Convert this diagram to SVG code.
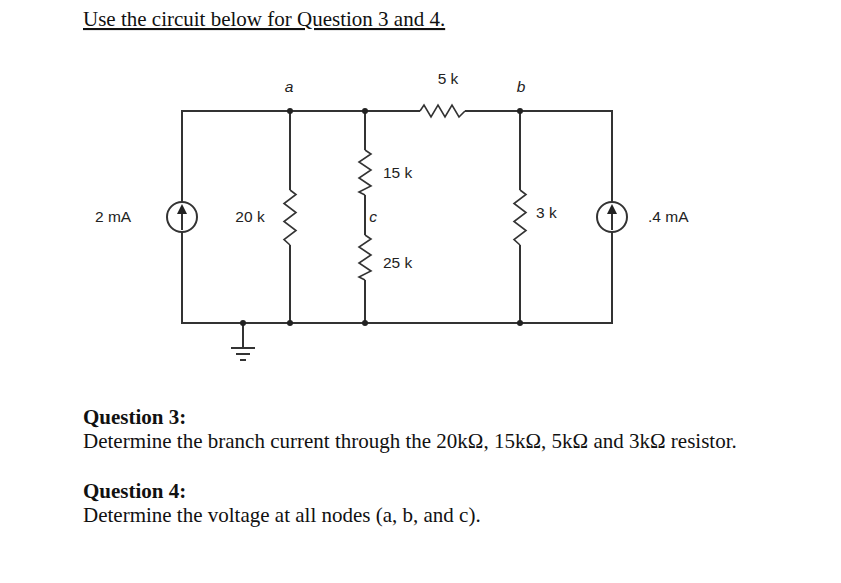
<svg xmlns="http://www.w3.org/2000/svg" width="841" height="583" viewBox="0 0 841 583">
<style>
.w{fill:none;stroke:#333;stroke-width:2}
.r{fill:none;stroke:#333;stroke-width:1.6}
.l{font-family:"Liberation Sans",Arial,sans-serif;font-size:15.5px;fill:#222}
.t{font-family:"Liberation Serif","Times New Roman",serif;font-size:21px;fill:#111}
.d{fill:#222}
</style>
<defs><marker id="ah" viewBox="0 0 10 10" refX="5" refY="5" markerWidth="5" markerHeight="5" orient="auto"><path d="M0,0L10,5L0,10z" fill="#222"/></marker></defs>
<rect width="841" height="583" fill="#fff"/>
<text class="t" x="83" y="26" font-size="20" text-decoration="underline">Use the circuit below for Question 3 and 4.</text>
<g id="wires">
<path class="w" d="M420,111H182V202M182,232V323H612V232M612,202V111H465M290,111V190M290,245V323M365,111V150M365,195V235M365,280V323M520,111V190M520,245V323M243,323V348"/>
</g>
<g id="ground"><path class="w" d="M231,348H255M236,354H250M240,360H246"/></g>
<g id="dots" class="d">
<circle cx="290" cy="111" r="3"/><circle cx="365" cy="111" r="3"/><circle cx="520" cy="111" r="3"/>
<circle cx="243" cy="323" r="3"/><circle cx="290" cy="323" r="3"/><circle cx="365" cy="323" r="3"/><circle cx="520" cy="323" r="3"/>
</g>
<g id="R5k"><path class="r" d="M420,111L424,105L431,117L438,105L445,117L452,105L459,117L465,111"/></g>
<g id="R20k"><path class="r" d="M290,190L296,194.5L284,203.5L296,212.5L284,221.5L296,230.5L284,239.5L290,245"/></g>
<g id="R15k"><path class="r" d="M365,150L371,154L359,162L371,170L359,178L371,186L359,192L365,195"/></g>
<g id="R25k"><path class="r" d="M365,235L371,239L359,247L371,255L359,263L371,271L359,277L365,280"/></g>
<g id="R3k"><path class="r" d="M520,190L526,194.5L514,203.5L526,212.5L514,221.5L526,230.5L514,239.5L520,245"/></g>
<g id="I2mA"><circle class="w" cx="182" cy="217" r="15"/><path class="w" d="M182,230V209" marker-end="url(#ah)"/></g>
<g id="I4mA"><circle class="w" cx="612" cy="217" r="15"/><path class="w" d="M612,230V209" marker-end="url(#ah)"/></g>
<g id="labels">
<text class="l" x="289" y="92" text-anchor="middle" font-style="italic">a</text>
<text class="l" x="448" y="84" text-anchor="middle">5 k</text>
<text class="l" x="521" y="92" text-anchor="middle" font-style="italic">b</text>
<text class="l" x="383" y="178">15 k</text>
<text class="l" x="250" y="222" text-anchor="middle">20 k</text>
<text class="l" x="373" y="222" text-anchor="middle" font-style="italic">c</text>
<text class="l" x="536" y="218">3 k</text>
<text class="l" x="383" y="268">25 k</text>
<text class="l" x="95" y="222">2 mA</text>
<text class="l" x="648" y="222">.4 mA</text>
</g>
<text class="t" x="83" y="424" font-weight="bold">Question 3:</text>
<text class="t" x="83" y="448">Determine the branch current through the 20kΩ, 15kΩ, 5kΩ and 3kΩ resistor.</text>
<text class="t" x="83" y="498" font-weight="bold">Question 4:</text>
<text class="t" x="83" y="522">Determine the voltage at all nodes (a, b, and c).</text>
</svg>
